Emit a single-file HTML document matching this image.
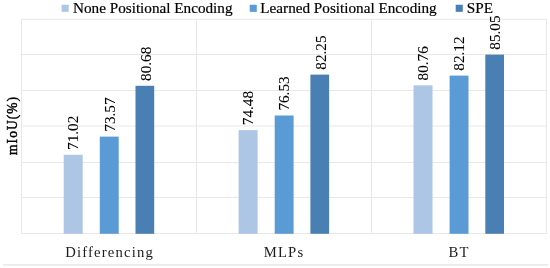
<!DOCTYPE html>
<html><head><meta charset="utf-8">
<style>
html,body{margin:0;padding:0;background:#fff;}
body{width:550px;height:268px;overflow:hidden;}
svg{display:block;}
text{font-family:"Liberation Serif",serif;fill:#000;}
</style></head><body>
<svg width="550" height="268" viewBox="0 0 550 268">
<rect width="550" height="268" fill="#fff"/>
<g stroke="#e8e8e8" stroke-width="1" fill="none">
<line x1="21.5" x2="546.5" y1="19.3" y2="19.3"/>
<line x1="21.5" x2="546.5" y1="54.5" y2="54.5"/>
<line x1="21.5" x2="546.5" y1="90.5" y2="90.5"/>
<line x1="21.5" x2="546.5" y1="126" y2="126"/>
<line x1="21.5" x2="546.5" y1="162.5" y2="162.5"/>
<line x1="21.5" x2="546.5" y1="197.5" y2="197.5"/>
<line x1="21.5" x2="546.5" y1="233.5" y2="233.5"/>
<line x1="21.5" x2="21.5" y1="19.3" y2="233.5"/>
<line x1="196.5" x2="196.5" y1="19.3" y2="233.5"/>
<line x1="371.5" x2="371.5" y1="19.3" y2="233.5"/>
<line x1="546.5" x2="546.5" y1="19.3" y2="233.5"/>
</g>
<line x1="3" x2="548.4" y1="264.9" y2="264.9" stroke="#ebebeb" stroke-width="1.6"/>
<g id="bars">
<rect x="63.7" y="154.8" width="19.0" height="79.0" fill="#adc6e6"/>
<rect x="99.8" y="136.6" width="18.9" height="97.2" fill="#5b9bd5"/>
<rect x="135.5" y="85.8" width="18.7" height="148.0" fill="#4a7fb3"/>
<rect x="238.6" y="130.1" width="19.0" height="103.7" fill="#adc6e6"/>
<rect x="274.7" y="115.5" width="18.9" height="118.3" fill="#5b9bd5"/>
<rect x="310.4" y="74.6" width="18.7" height="159.2" fill="#4a7fb3"/>
<rect x="413.5" y="85.3" width="19.0" height="148.5" fill="#adc6e6"/>
<rect x="449.6" y="75.6" width="18.9" height="158.2" fill="#5b9bd5"/>
<rect x="485.3" y="54.6" width="18.7" height="179.2" fill="#4a7fb3"/>
</g>
<g id="legend" font-size="15.2" stroke="#000" stroke-width="0.2">
<rect x="61.6" y="4.75" width="7.1" height="7.1" fill="#adc6e6" stroke="none"/>
<text transform="translate(73.0,13.15) scale(1,0.97)">None Positional Encoding</text>
<rect x="249.7" y="4.75" width="7.1" height="7.1" fill="#5b9bd5" stroke="none"/>
<text transform="translate(260.3,13.15) scale(1,0.97)">Learned Positional Encoding</text>
<rect x="455.7" y="4.75" width="7.1" height="7.1" fill="#4a7fb3" stroke="none"/>
<text transform="translate(466.8,13.15) scale(1,0.97)">SPE</text>
</g>
<g id="cats" font-size="14.7" text-anchor="middle" letter-spacing="1.17">
<text style="fill:#1c1c1c" transform="translate(109.6,256.5)">Differencing</text>
<text style="fill:#1c1c1c" transform="translate(284.0,256.5)">MLPs</text>
<text style="fill:#1c1c1c" transform="translate(459.1,256.5)">BT</text>
</g>
<text font-size="14.6" letter-spacing="1.2" stroke="#000" stroke-width="0.45" text-anchor="middle" transform="translate(17.4,125.4) rotate(-90) scale(0.92,1)">mIoU(%)</text>
<g id="vals" font-size="15.2" stroke="#000" stroke-width="0.1">
<text transform="translate(78.4,149.9) rotate(-90) scale(1,0.97)">71.02</text>
<text transform="translate(114.5,131.7) rotate(-90) scale(1,0.97)">73.57</text>
<text transform="translate(150.6,80.9) rotate(-90) scale(1,0.97)">80.68</text>
<text transform="translate(253.3,125.2) rotate(-90) scale(1,0.97)">74.48</text>
<text transform="translate(289.4,110.6) rotate(-90) scale(1,0.97)">76.53</text>
<text transform="translate(325.5,69.7) rotate(-90) scale(1,0.97)">82.25</text>
<text transform="translate(428.2,80.4) rotate(-90) scale(1,0.97)">80.76</text>
<text transform="translate(464.3,70.7) rotate(-90) scale(1,0.97)">82.12</text>
<text transform="translate(500.4,49.7) rotate(-90) scale(1,0.97)">85.05</text>
</g>
</svg>
</body></html>
